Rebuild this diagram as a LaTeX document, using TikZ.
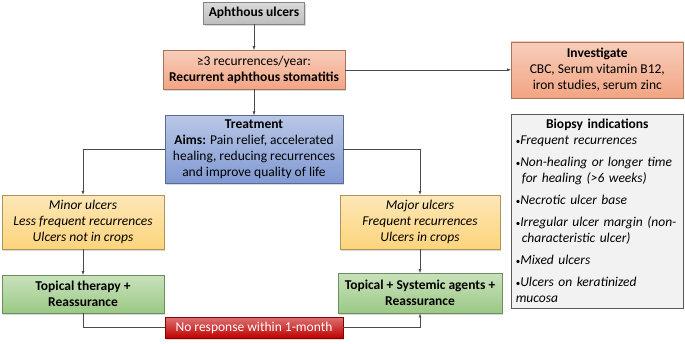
\documentclass[tikz,border=0pt]{standalone}
\usepackage{fontspec}
\setmainfont{Carlito}
\usepackage{xcolor}
\usepackage{tikz}
\usetikzlibrary{arrows.meta,positioning,shadows}
\definecolor{linegray}{HTML}{4A4A4A}
\newcommand{\bioitem}[1]{\par\vspace{6pt}\noindent\hangindent=6pt\hangafter=1 {\small\textbullet}\textit{#1}}
\tikzset{
  flowbox/.style={draw=#1!70!black, line width=0.3pt, align=center, inner sep=2pt, font=\fontsize{13.5}{16}\selectfont,
    top color=#1!55!white, bottom color=#1, drop shadow={shadow xshift=1pt, shadow yshift=-1.5pt, opacity=0.3}},
  flowarrow/.style={-{Latex[length=4pt,width=3pt]}, draw=linegray, line width=0.6pt},
  flowline/.style={draw=linegray, line width=0.6pt}
}
\definecolor{boxgray}{HTML}{BDBDBD}
\definecolor{boxorange}{HTML}{F2A583}
\definecolor{boxblue}{HTML}{8099D2}
\definecolor{boxyellow}{HTML}{FCD47C}
\definecolor{boxgreen}{HTML}{9BC985}
\definecolor{boxred}{HTML}{C00000}
\definecolor{biofill}{HTML}{F2F2F2}
\definecolor{bioborder}{HTML}{595959}

\begin{document}
\begin{tikzpicture}[x=1pt, y=1pt]
  \useasboundingbox (0,0) rectangle (685,-343);
  \node[flowbox=boxgray, minimum width=101pt, minimum height=22pt] (aph) at (254,-13) {\textbf{Aphthous ulcers}};
  \node[flowbox=boxorange, minimum width=182pt, minimum height=39pt, below=26pt of aph] (ras) {≥3 recurrences/year:\\\textbf{Recurrent aphthous stomatitis}};
  \node[flowbox=boxorange, minimum width=172pt, minimum height=56pt, right=166pt of ras] (inv) {\textbf{Investigate}\\CBC, Serum vitamin B12,\\iron studies, serum zinc};
  \node[flowbox=boxblue, minimum width=178pt, minimum height=68pt, below=26pt of ras] (treat) {\textbf{Treatment}\\\textbf{Aims:} Pain relief, accelerated\\healing, reducing recurrences\\and improve quality of life};
  \node[flowbox=boxyellow, minimum width=162pt, minimum height=54pt] (minor) at (83,-222) {\textit{Minor ulcers}\\\textit{Less frequent recurrences}\\\textit{Ulcers not in crops}};
  \node[flowbox=boxyellow, minimum width=160pt, minimum height=54pt] (major) at (420,-222) {\textit{Major ulcers}\\\textit{Frequent recurrences}\\\textit{Ulcers in crops}};
  \node[flowbox=boxgreen, minimum width=162pt, minimum height=38pt, below=26pt of minor] (topical) {\textbf{Topical therapy +}\\\textbf{Reassurance}};
  \node[flowbox=boxgreen, minimum width=164pt, minimum height=40pt, below=24pt of major] (systemic) {\textbf{Topical + Systemic agents +}\\\textbf{Reassurance}};
  \node[flowbox=boxred, minimum width=178pt, minimum height=21pt, text=white] (noresp) at (254,-327.5) {No response within 1-month};
  \node[draw=bioborder, fill=biofill, line width=0.8pt, minimum width=172pt, below=16pt of inv,
    text width=163pt, inner xsep=4pt, inner ysep=5pt, anchor=north, font=\fontsize{13.5}{16}\selectfont] (biopsy) {%
    {\centering\textbf{Biopsy indications}\par}\vspace{-6pt}%
    \bioitem{Frequent recurrences}%
    \bioitem{Non-healing or longer time for healing (>6 weeks)}%
    \bioitem{Necrotic ulcer base}%
    \bioitem{Irregular ulcer margin (non-characteristic ulcer)}%
    \bioitem{Mixed ulcers}%
    \bioitem{Ulcers on keratinized \mbox{mucosa}}};

  \draw[flowarrow] (aph) -- (ras);
  \draw[flowarrow] (ras) -- (inv);
  \draw[flowarrow] (ras) -- (treat);
  \draw[flowarrow] (treat.west) -| (minor.north);
  \draw[flowarrow] (treat.east) -| (major.north);
  \draw[flowarrow] (minor) -- (topical);
  \draw[flowarrow] (major) -- (systemic);
  \draw[flowline] (topical.south) |- (noresp.west);
  \draw[flowarrow] (noresp.east) -| (systemic.south);
\end{tikzpicture}
\end{document}
